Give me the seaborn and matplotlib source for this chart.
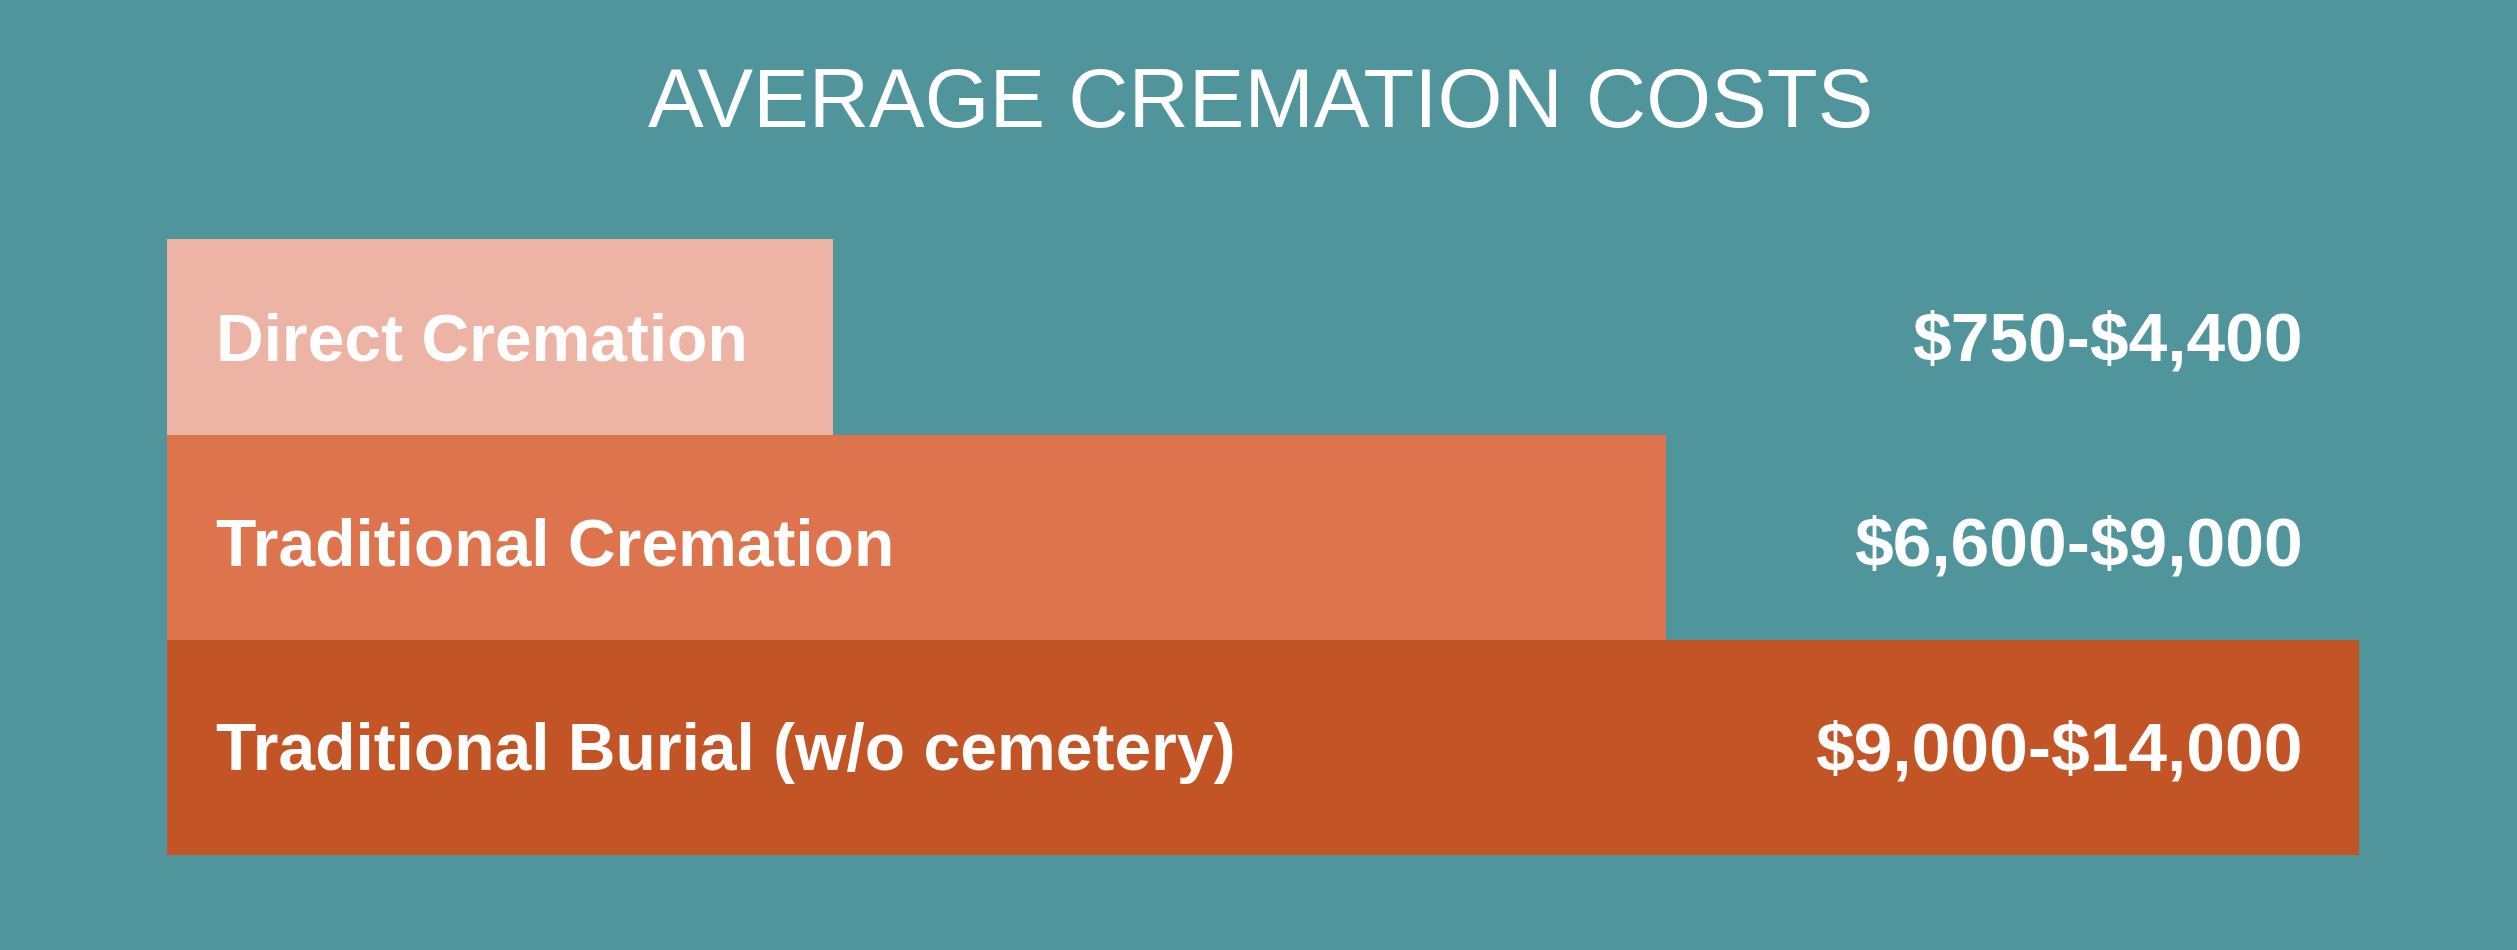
import matplotlib
matplotlib.use("Agg")
import matplotlib.pyplot as plt
import seaborn as sns
import numpy as np

# chart data
title = "AVERAGE CREMATION COSTS"
categories = ["Direct Cremation", "Traditional Cremation", "Traditional Burial (w/o cemetery)"]
cost_ranges = ["$750-$4,400", "$6,600-$9,000", "$9,000-$14,000"]
bar_length = [30.4, 68.4, 100.0]   # relative bar length, longest = 100

# styling
bg = "#50959B"
bar_colors = ["#EDB4A5", "#DD744D", "#C35426"]
bar_thickness = [0.955, 1.0, 1.047]   # bars get slightly thicker going down

sns.set_theme(style="white")
plt.rcParams["font.family"] = ["Liberation Sans", "DejaVu Sans"]
plt.rcParams["text.parse_math"] = False   # keep the $ signs literal

fig = plt.figure(figsize=(25.17, 9.5), dpi=100, facecolor=bg)
ax = fig.add_axes([167 / 2517, 1 - 855 / 950, 2192 / 2517, 616 / 950])
ax.set_facecolor(bg)

sns.barplot(x=bar_length, y=categories, hue=categories, palette=bar_colors,
            orient="h", width=1, saturation=1, legend=False, ax=ax,
            edgecolor="none", linewidth=0)

# stack bars edge to edge with their own thickness
edges = -0.5 + np.concatenate([[0], np.cumsum(bar_thickness)])
for i, p in enumerate(ax.patches[:len(categories)]):
    p.set_y(edges[i])
    p.set_height(bar_thickness[i])

ax.set_xlim(0, 100)
ax.set_ylim(edges[-1], -0.5)
ax.axis("off")

for i, (cat, rng) in enumerate(zip(categories, cost_ranges)):
    ax.text(2.24, i + 0.09, cat, ha="left", va="baseline", color="white",
            fontsize=47.5, fontweight="bold")
    ax.text(97.43, i + 0.09, rng, ha="right", va="baseline", color="white",
            fontsize=50, fontweight="bold")

fig.text(0.5008, 1 - 127 / 950, title, ha="center", va="baseline", color="white", fontsize=60)

fig.savefig("out.png", dpi=100, facecolor=bg)
